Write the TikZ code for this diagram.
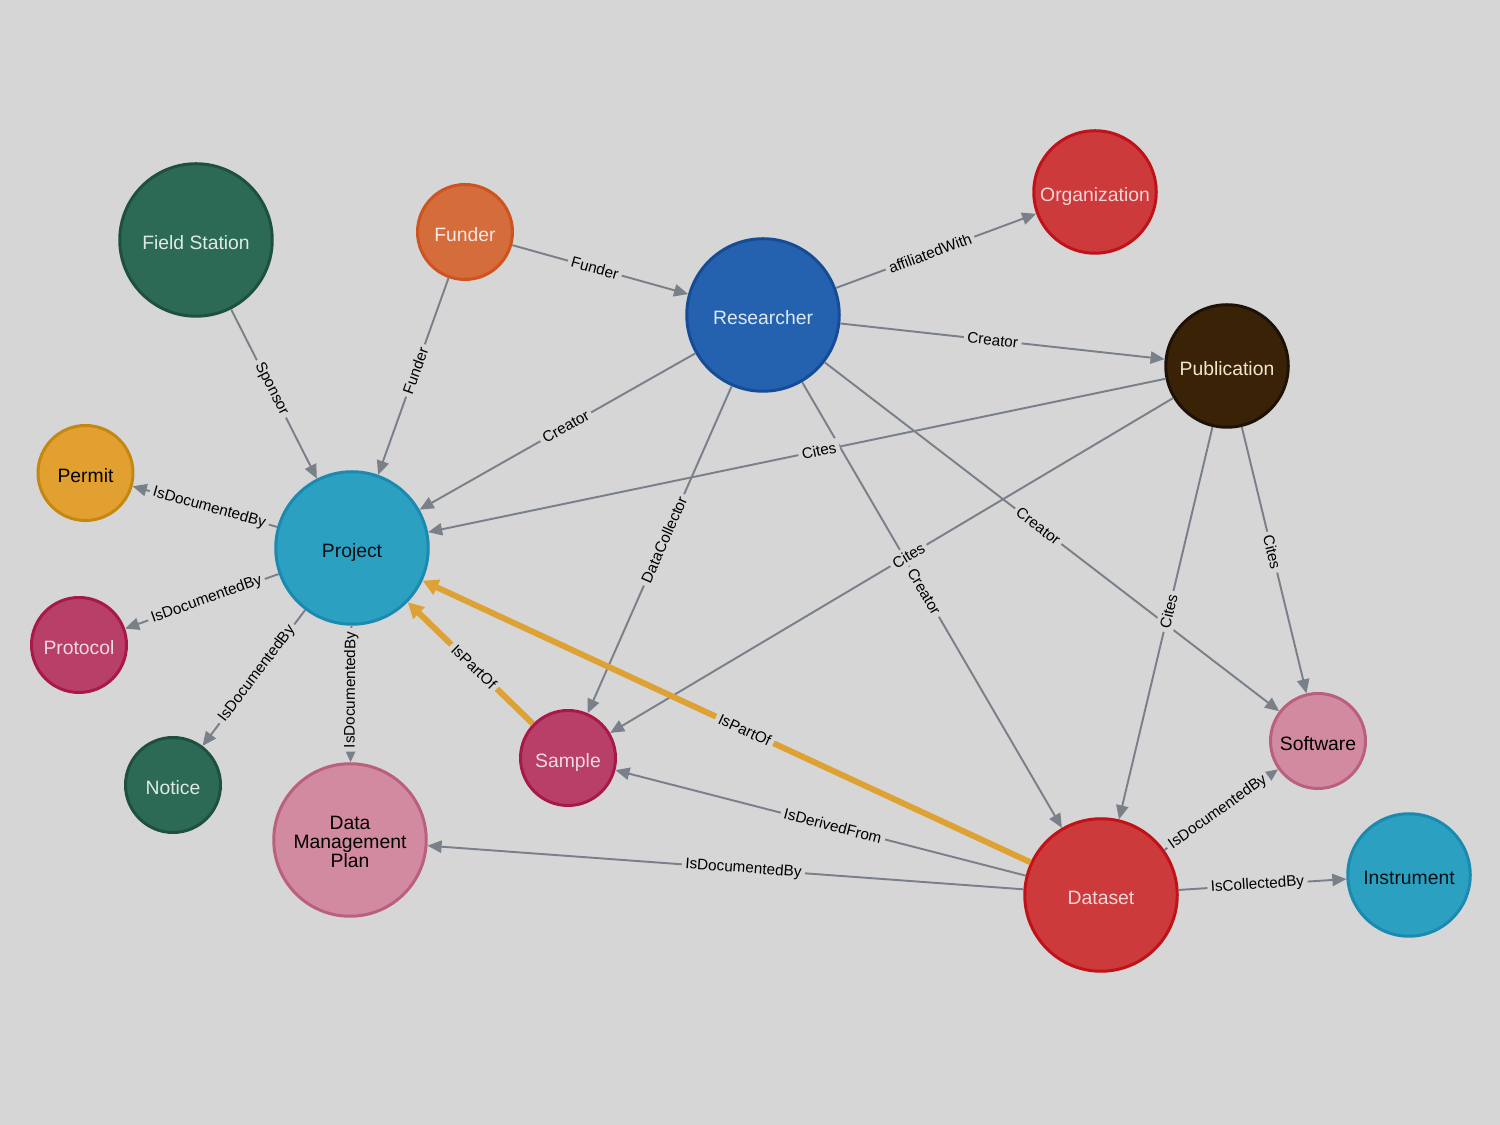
\documentclass[tikz,border=0pt]{standalone}
\usepackage{fontspec}
\setmainfont{Liberation Sans}
\usetikzlibrary{arrows.meta}

\definecolor{bggray}{RGB}{214,214,214}
\definecolor{edgegray}{RGB}{122,128,138}
\definecolor{partgold}{RGB}{222,162,52}
\definecolor{greenfill}{RGB}{44,106,86}
\definecolor{greenline}{RGB}{30,80,64}
\definecolor{orangefill}{RGB}{213,108,60}
\definecolor{orangeline}{RGB}{205,84,30}
\definecolor{redfill}{RGB}{204,58,60}
\definecolor{redline}{RGB}{192,18,24}
\definecolor{bluefill}{RGB}{36,98,176}
\definecolor{blueline}{RGB}{22,76,150}
\definecolor{brownfill}{RGB}{58,34,6}
\definecolor{brownline}{RGB}{30,18,8}
\definecolor{browntext}{RGB}{240,232,200}
\definecolor{goldfill}{RGB}{225,160,48}
\definecolor{goldline}{RGB}{196,136,16}
\definecolor{tealfill}{RGB}{44,160,192}
\definecolor{tealline}{RGB}{26,138,176}
\definecolor{crimsonfill}{RGB}{184,64,104}
\definecolor{crimsonline}{RGB}{168,24,72}
\definecolor{rosefill}{RGB}{210,138,160}
\definecolor{roseline}{RGB}{186,96,126}

\tikzset{
  entity/.style={circle, line width=1.7pt, inner sep=0pt, align=center,
    text height=1.1em, text depth=0pt,
    font=\fontsize{11}{10.6}\selectfont},
  bignode/.style={minimum size=3.05cm},
  midnode/.style={minimum size=2.45cm},
  smallnode/.style={minimum size=1.9cm},
  rel/.style={draw=edgegray, line width=1.1pt, -{Triangle[length=8pt,width=7pt]}},
  partof/.style={draw=partgold, line width=3.4pt, -{Triangle[length=9pt,width=9pt]}},
  lbl/.style={sloped, pos=0.47, fill=bggray, inner sep=2pt, text=black,
    font=\fontsize{8.7}{9}\selectfont}
}

\begin{document}
\begin{tikzpicture}
  \fill[bggray] (0,0) rectangle (30,22.5);
  \useasboundingbox (0,0) rectangle (30,22.5);

  % entities
  \node[entity, bignode, fill=greenfill, draw=greenline, text=white!85!greenfill] (fieldstation) at (3.92,17.70) {Field Station};
  \node[entity, smallnode, fill=orangefill, draw=orangeline, text=white!85!orangefill] (funder) at (9.30,17.86) {Funder};
  \node[entity, midnode, fill=redfill, draw=redline, text=white!80!redfill] (organization) at (21.90,18.66) {Organization};
  \node[entity, bignode, fill=bluefill, draw=blueline, text=white!85!bluefill] (researcher) at (15.26,16.20) {Researcher};
  \node[entity, midnode, fill=brownfill, draw=brownline, text=browntext] (publication) at (24.54,15.18) {Publication};
  \node[entity, smallnode, fill=goldfill, draw=goldline, text=black] (permit) at (1.71,13.04) {Permit};
  \node[entity, bignode, fill=tealfill, draw=tealline, text=black!90!tealfill] (project) at (7.04,11.54) {Project};
  \node[entity, smallnode, fill=crimsonfill, draw=crimsonline, text=white!80!crimsonfill] (protocol) at (1.58,9.60) {Protocol};
  \node[entity, smallnode, fill=greenfill, draw=greenline, text=white!85!greenfill] (notice) at (3.46,6.80) {Notice};
  \node[entity, bignode, fill=rosefill, draw=roseline, text=black, text height=31pt] (dmp) at (7.00,5.70) {Data\\Management\\Plan};
  \node[entity, smallnode, fill=crimsonfill, draw=crimsonline, text=white!80!crimsonfill] (sample) at (11.36,7.34) {Sample};
  \node[entity, smallnode, fill=rosefill, draw=roseline, text=black] (software) at (26.36,7.68) {Software};
  \node[entity, bignode, fill=redfill, draw=redline, text=white!80!redfill] (dataset) at (22.02,4.60) {Dataset};
  \node[entity, midnode, fill=tealfill, draw=tealline, text=black!90!tealfill] (instrument) at (28.18,5.00) {Instrument};

  % relations
  \draw[rel] (funder) -- node[lbl]{Funder} (researcher);
  \draw[rel] (funder) -- node[lbl]{Funder} (project);
  \draw[rel] (fieldstation) -- node[lbl]{Sponsor} (project);
  \draw[rel] (researcher) -- node[lbl]{affiliatedWith} (organization);
  \draw[rel] (researcher) -- node[lbl]{Creator} (publication);
  \draw[rel] (researcher) -- node[lbl]{Creator} (project);
  \draw[rel] (researcher) -- node[lbl]{DataCollector} (sample);
  \draw[rel] (researcher) -- node[lbl]{Creator} (dataset);
  \draw[rel] (researcher) -- node[lbl]{Creator} (software);
  \draw[rel] (publication) -- node[lbl]{Cites} (project);
  \draw[rel] (publication) -- node[lbl]{Cites} (sample);
  \draw[rel] (publication) -- node[lbl]{Cites} (dataset);
  \draw[rel] (publication) -- node[lbl]{Cites} (software);
  \draw[rel] (project) -- node[lbl]{IsDocumentedBy} (permit);
  \draw[rel] (project) -- node[lbl]{IsDocumentedBy} (protocol);
  \draw[rel] (project) -- node[lbl]{IsDocumentedBy} (notice);
  \draw[rel] (project) -- node[lbl]{IsDocumentedBy} (dmp);
  \draw[rel] (dataset) -- node[lbl]{IsDerivedFrom} (sample);
  \draw[rel] (dataset) -- node[lbl]{IsDocumentedBy} (dmp);
  \draw[rel] (dataset) -- node[lbl]{IsDocumentedBy} (software);
  \draw[rel] (dataset) -- node[lbl]{IsCollectedBy} (instrument);

  % part-of links
  \draw[partof] (sample) -- node[lbl]{IsPartOf} (project);
  \draw[partof] (dataset) -- node[lbl]{IsPartOf} (project);
\end{tikzpicture}
\end{document}
